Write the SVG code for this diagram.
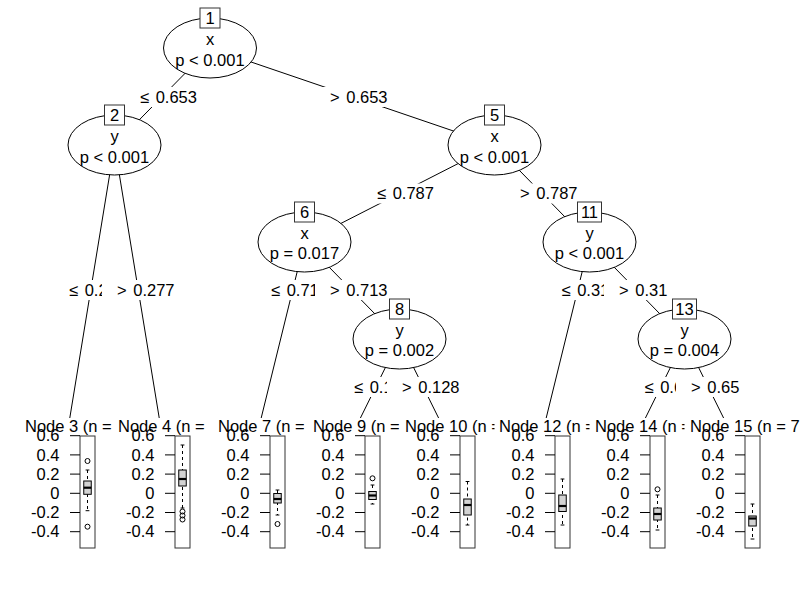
<svg xmlns="http://www.w3.org/2000/svg" xmlns:xlink="http://www.w3.org/1999/xlink" width="800" height="600" viewBox="0 0 800 600">
<style>
text{font-family:"Liberation Sans",Arial,Helvetica,sans-serif;font-size:16.5px;fill:#000}
.c{text-anchor:middle}
.e{text-anchor:end}
.el{word-spacing:2px}
.edge{stroke:#000;stroke-width:1;fill:none}
.lbg{fill:#fff;stroke:none}
.ell{fill:#fff;stroke:#000;stroke-width:1}
.idb{fill:#fff;stroke:#333;stroke-width:1}
.pbg{fill:#fff;stroke:none}
.frame{fill:none;stroke:#333;stroke-width:1}
.tick{stroke:#000;stroke-width:1}
.box{fill:#d3d3d3;stroke:#000;stroke-width:1}
.med{stroke:#000;stroke-width:2.2}
.wh{stroke:#000;stroke-width:1;stroke-dasharray:3 3}
.cap{stroke:#000;stroke-width:1}
.out{fill:none;stroke:#000;stroke-width:1}
</style>
<defs>
<g id="axis">
<rect class="frame" x="60.5" y="436" width="15" height="112"/>
<path class="tick" d="M50.5 435.7H60.5M50.5 454.9H60.5M50.5 474.1H60.5M50.5 493.3H60.5M50.5 512.5H60.5M50.5 531.7H60.5"/>
<text class="e" x="40" y="441.4">0.6</text>
<text class="e" x="40" y="460.6">0.4</text>
<text class="e" x="40" y="479.8">0.2</text>
<text class="e" x="40" y="499">0</text>
<text class="e" x="40" y="518.2">-0.2</text>
<text class="e" x="40" y="537.4">-0.4</text>
</g>
</defs>
<rect x="0" y="0" width="800" height="600" fill="#fff"/>
<g id="connectors">
<line class="edge" x1="210" y1="48" x2="114.5" y2="145"/>
<line class="edge" x1="210" y1="48" x2="494.5" y2="145"/>
<line class="edge" x1="114.5" y1="145" x2="67" y2="435"/>
<line class="edge" x1="114.5" y1="145" x2="162" y2="435"/>
<line class="edge" x1="494.5" y1="145" x2="304.5" y2="242"/>
<line class="edge" x1="494.5" y1="145" x2="589.5" y2="242"/>
<line class="edge" x1="304.5" y1="242" x2="257" y2="435"/>
<line class="edge" x1="304.5" y1="242" x2="399.5" y2="339"/>
<line class="edge" x1="399.5" y1="339" x2="352" y2="435"/>
<line class="edge" x1="399.5" y1="339" x2="447" y2="435"/>
<line class="edge" x1="589.5" y1="242" x2="542" y2="435"/>
<line class="edge" x1="589.5" y1="242" x2="684.5" y2="339"/>
<line class="edge" x1="684.5" y1="339" x2="637" y2="435"/>
<line class="edge" x1="684.5" y1="339" x2="732" y2="435"/>
<rect class="lbg" x="125.5" y="87" width="72.5" height="20"/><text class="el" x="140" y="102.5">≤ 0.653</text>
<rect class="lbg" x="316" y="87" width="72" height="20"/><text class="el" x="330" y="102.5">&gt; 0.653</text>
<rect class="lbg" x="362" y="183.5" width="75" height="20"/><text class="el" x="377" y="199">≤ 0.787</text>
<rect class="lbg" x="506" y="183.5" width="72" height="20"/><text class="el" x="520" y="199">&gt; 0.787</text>
<rect class="lbg" x="54.5" y="280" width="72.5" height="20"/><text class="el" x="69" y="295.5">≤ 0.2</text>
<rect class="lbg" x="102" y="280" width="72.5" height="20"/><text class="el" x="117" y="295.5">&gt; 0.277</text>
<rect class="lbg" x="256.5" y="280" width="72.5" height="20"/><text class="el" x="271" y="295.5">≤ 0.71</text>
<rect class="lbg" x="315" y="280" width="73" height="20"/><text class="el" x="330" y="295.5">&gt; 0.713</text>
<rect class="lbg" x="547" y="280" width="61.5" height="20"/><text class="el" x="561.5" y="295.5">≤ 0.31</text>
<rect class="lbg" x="604" y="280" width="63" height="20"/><text class="el" x="619" y="295.5">&gt; 0.31</text>
<rect class="lbg" x="339.5" y="377" width="72.5" height="20"/><text class="el" x="354" y="392.5">≤ 0.1</text>
<rect class="lbg" x="387" y="377" width="72.5" height="20"/><text class="el" x="402" y="392.5">&gt; 0.128</text>
<rect class="lbg" x="630" y="377" width="61.5" height="20"/><text class="el" x="644.5" y="392.5">≤ 0.6</text>
<rect class="lbg" x="676" y="377" width="63" height="20"/><text class="el" x="691" y="392.5">&gt; 0.65</text>
</g>
<g id="node1">
<ellipse class="ell" cx="210" cy="48" rx="46.5" ry="30"/>
<rect class="idb" x="200" y="8" width="20" height="20"/>
<text class="c" x="210" y="24">1</text>
<text class="c" x="210" y="45">x</text>
<text class="c" x="210" y="65.5">p &lt; 0.001</text>
</g>
<g id="node2">
<ellipse class="ell" cx="114.5" cy="145" rx="46.5" ry="30"/>
<rect class="idb" x="104.5" y="105" width="20" height="20"/>
<text class="c" x="114.5" y="121">2</text>
<text class="c" x="114.5" y="142">y</text>
<text class="c" x="114.5" y="162.5">p &lt; 0.001</text>
</g>
<g id="node5">
<ellipse class="ell" cx="494.5" cy="145" rx="46.5" ry="30"/>
<rect class="idb" x="484.5" y="105" width="20" height="20"/>
<text class="c" x="494.5" y="121">5</text>
<text class="c" x="494.5" y="142">x</text>
<text class="c" x="494.5" y="162.5">p &lt; 0.001</text>
</g>
<g id="node6">
<ellipse class="ell" cx="304.5" cy="242" rx="46.5" ry="30"/>
<rect class="idb" x="294.5" y="202" width="20" height="20"/>
<text class="c" x="304.5" y="218">6</text>
<text class="c" x="304.5" y="239">x</text>
<text class="c" x="304.5" y="259">p = 0.017</text>
</g>
<g id="node8">
<ellipse class="ell" cx="399.5" cy="339" rx="46.5" ry="30"/>
<rect class="idb" x="389.5" y="299" width="20" height="20"/>
<text class="c" x="399.5" y="315">8</text>
<text class="c" x="399.5" y="336">y</text>
<text class="c" x="399.5" y="356">p = 0.002</text>
</g>
<g id="node11">
<ellipse class="ell" cx="589.5" cy="242" rx="46.5" ry="30"/>
<rect class="idb" x="577.5" y="202" width="24" height="20"/>
<text class="c" x="589.5" y="218">11</text>
<text class="c" x="589.5" y="239">y</text>
<text class="c" x="589.5" y="259">p &lt; 0.001</text>
</g>
<g id="node13">
<ellipse class="ell" cx="684.5" cy="339" rx="46.5" ry="30"/>
<rect class="idb" x="672.5" y="299" width="24" height="20"/>
<text class="c" x="684.5" y="315">13</text>
<text class="c" x="684.5" y="336">y</text>
<text class="c" x="684.5" y="356">p = 0.004</text>
</g>
<g id="node3">
<rect class="pbg" x="19.5" y="418" width="95" height="170"/>
<text x="25" y="432">Node 3 (n =</text>
<use xlink:href="#axis" href="#axis" transform="translate(19.5 0)"/>
<line class="wh" x1="87.5" y1="470" x2="87.5" y2="510.7"/>
<line class="cap" x1="85.6" y1="470" x2="89.4" y2="470"/>
<line class="cap" x1="85.6" y1="510.7" x2="89.4" y2="510.7"/>
<rect class="box" x="83.75" y="481" width="7.5" height="13.3"/>
<line class="med" x1="83.75" y1="487.7" x2="91.25" y2="487.7"/>
<circle class="out" cx="87.5" cy="461" r="2.5"/>
<circle class="out" cx="87.5" cy="526.7" r="2.5"/>
</g>
<g id="node4">
<rect class="pbg" x="114.5" y="418" width="95" height="170"/>
<text x="118" y="432">Node 4 (n =</text>
<use xlink:href="#axis" href="#axis" transform="translate(114.5 0)"/>
<line class="wh" x1="182.5" y1="445" x2="182.5" y2="508"/>
<line class="cap" x1="180.6" y1="445" x2="184.4" y2="445"/>
<line class="cap" x1="180.6" y1="508" x2="184.4" y2="508"/>
<rect class="box" x="178.75" y="470" width="7.5" height="16"/>
<line class="med" x1="178.75" y1="479" x2="186.25" y2="479"/>
<circle class="out" cx="182.5" cy="511.5" r="2.5"/>
<circle class="out" cx="182.5" cy="515.5" r="2.5"/>
<circle class="out" cx="182.5" cy="519.5" r="2.5"/>
</g>
<g id="node7">
<rect class="pbg" x="209.5" y="418" width="95" height="170"/>
<text x="218" y="432">Node 7 (n =</text>
<use xlink:href="#axis" href="#axis" transform="translate(209.5 0)"/>
<line class="wh" x1="277.5" y1="490" x2="277.5" y2="515"/>
<line class="cap" x1="275.6" y1="490" x2="279.4" y2="490"/>
<line class="cap" x1="275.6" y1="515" x2="279.4" y2="515"/>
<rect class="box" x="273.75" y="493.5" width="7.5" height="9.5"/>
<line class="med" x1="273.75" y1="499" x2="281.25" y2="499"/>
<circle class="out" cx="277.5" cy="524" r="2.5"/>
</g>
<g id="node9">
<rect class="pbg" x="304.5" y="418" width="95" height="170"/>
<text x="313" y="432">Node 9 (n =</text>
<use xlink:href="#axis" href="#axis" transform="translate(304.5 0)"/>
<line class="wh" x1="372.5" y1="485" x2="372.5" y2="504"/>
<line class="cap" x1="370.6" y1="485" x2="374.4" y2="485"/>
<line class="cap" x1="370.6" y1="504" x2="374.4" y2="504"/>
<rect class="box" x="368.75" y="491.5" width="7.5" height="8"/>
<line class="med" x1="368.75" y1="495.5" x2="376.25" y2="495.5"/>
<circle class="out" cx="372.5" cy="478.3" r="2.5"/>
</g>
<g id="node10">
<rect class="pbg" x="399.5" y="418" width="95" height="170"/>
<text x="405" y="432">Node 10 (n =</text>
<use xlink:href="#axis" href="#axis" transform="translate(399.5 0)"/>
<line class="wh" x1="467.5" y1="481.5" x2="467.5" y2="525"/>
<line class="cap" x1="465.6" y1="481.5" x2="469.4" y2="481.5"/>
<line class="cap" x1="465.6" y1="525" x2="469.4" y2="525"/>
<rect class="box" x="463.75" y="499" width="7.5" height="16"/>
<line class="med" x1="463.75" y1="505" x2="471.25" y2="505"/>
</g>
<g id="node12">
<rect class="pbg" x="494.5" y="418" width="95" height="170"/>
<text x="499" y="432">Node 12 (n =</text>
<use xlink:href="#axis" href="#axis" transform="translate(494.5 0)"/>
<line class="wh" x1="562.5" y1="479" x2="562.5" y2="525"/>
<line class="cap" x1="560.6" y1="479" x2="564.4" y2="479"/>
<line class="cap" x1="560.6" y1="525" x2="564.4" y2="525"/>
<rect class="box" x="558.75" y="495" width="7.5" height="16.5"/>
<line class="med" x1="558.75" y1="506" x2="566.25" y2="506"/>
</g>
<g id="node14">
<rect class="pbg" x="589.5" y="418" width="95" height="170"/>
<text x="595" y="432">Node 14 (n =</text>
<use xlink:href="#axis" href="#axis" transform="translate(589.5 0)"/>
<line class="wh" x1="657.5" y1="495" x2="657.5" y2="530"/>
<line class="cap" x1="655.6" y1="495" x2="659.4" y2="495"/>
<line class="cap" x1="655.6" y1="530" x2="659.4" y2="530"/>
<rect class="box" x="653.75" y="508" width="7.5" height="12"/>
<line class="med" x1="653.75" y1="514" x2="661.25" y2="514"/>
<circle class="out" cx="657.5" cy="489.3" r="2.5"/>
</g>
<g id="node15">
<rect class="pbg" x="684.5" y="418" width="95" height="170"/>
<text x="690" y="432">Node 15 (n = 7</text>
<use xlink:href="#axis" href="#axis" transform="translate(684.5 0)"/>
<line class="wh" x1="752.5" y1="504" x2="752.5" y2="539"/>
<line class="cap" x1="750.6" y1="504" x2="754.4" y2="504"/>
<line class="cap" x1="750.6" y1="539" x2="754.4" y2="539"/>
<rect class="box" x="748.75" y="516" width="7.5" height="10"/>
<line class="med" x1="748.75" y1="518.5" x2="756.25" y2="518.5"/>
</g>
</svg>
